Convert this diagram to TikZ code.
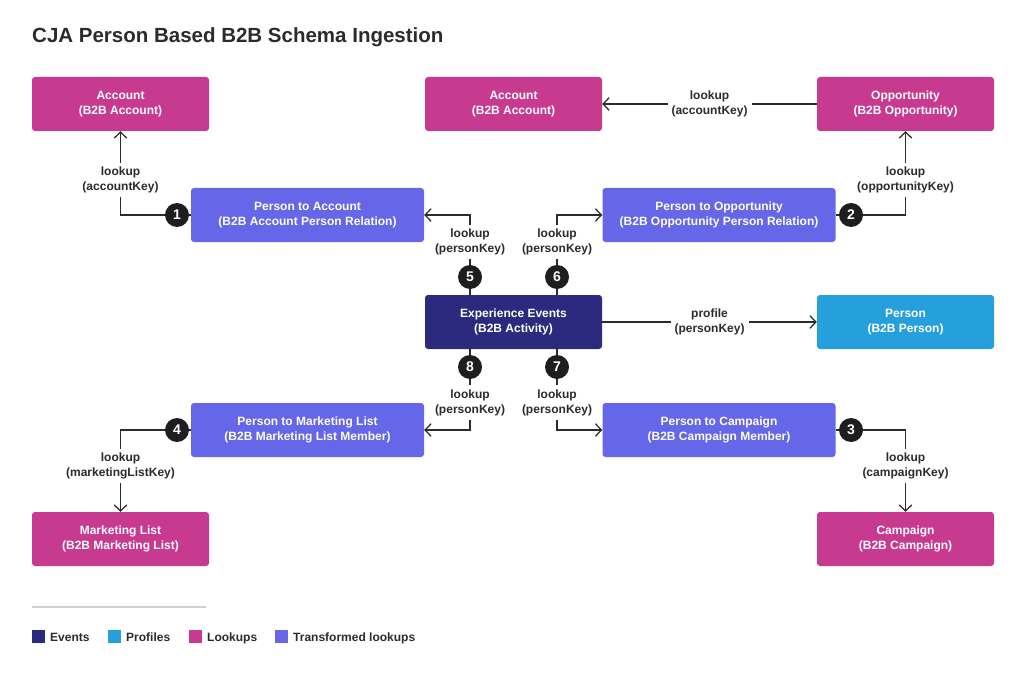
\documentclass[tikz,border=0pt]{standalone}
\usepackage{fontspec}
\setmainfont{Liberation Sans}
\usetikzlibrary{arrows.meta,positioning,calc}

\definecolor{evcol}{HTML}{2C2A7E}
\definecolor{profcol}{HTML}{26A0DC}
\definecolor{lkcol}{HTML}{C83A8F}
\definecolor{trcol}{HTML}{6567E8}
\definecolor{inkcol}{HTML}{2B2B2B}
\definecolor{badgecol}{HTML}{1E1E1E}
\definecolor{rulecol}{HTML}{CFCFCF}

\begin{document}
\begin{tikzpicture}[x=1pt, y=-1pt,
  box/.style={rectangle, rounded corners=3pt, minimum height=54pt, align=center,
              text=white, font=\fontsize{12}{15}\selectfont\bfseries, inner sep=0pt},
  lookupbox/.style={box, fill=lkcol, minimum width=177pt},
  transbox/.style={box, fill=trcol, minimum width=233pt},
  eventbox/.style={box, fill=evcol, minimum width=177pt},
  profilebox/.style={box, fill=profcol, minimum width=177pt},
  badge/.style={circle, fill=badgecol, text=white, minimum size=24pt, inner sep=0pt,
                font=\fontsize{14}{16}\selectfont\bfseries},
  note/.style={fill=white, align=center, text=inkcol, inner sep=4pt,
               font=\fontsize{12}{15}\selectfont\bfseries},
  link/.style={draw=inkcol, line width=1.25pt, -{Straight Barb[length=6pt,width=12.5pt]}},
  swatch/.style={rectangle, minimum size=13pt, inner sep=0pt},
  legtext/.style={anchor=base west, text=inkcol, inner sep=0pt,
                  font=\fontsize{12}{14}\selectfont\bfseries},
]
  \useasboundingbox (0,0) rectangle (1024,676);

  % ===== Title =====
  \node[anchor=base west, inner sep=0pt, text=inkcol,
        font=\fontsize{20.5}{24}\selectfont\bfseries] (title) at (32,43)
       {CJA Person Based B2B Schema Ingestion};

  % ===== Top row =====
  \node[lookupbox] (acc1) at (120.5,104) {Account\\(B2B Account)};
  \node[lookupbox] (acc2) at (513.5,104) {Account\\(B2B Account)};
  \node[lookupbox] (opp)  at (905.5,104) {Opportunity\\(B2B Opportunity)};

  % ===== Transformed lookups =====
  \node[transbox] (pta)  at (307.5,215) {Person to Account\\(B2B Account Person Relation)};
  \node[transbox] (pto)  at (719,215)   {Person to Opportunity\\(B2B Opportunity Person Relation)};
  \node[transbox] (ptml) at (307.5,430) {Person to Marketing List\\(B2B Marketing List Member)};
  \node[transbox] (ptc)  at (719,430)   {Person to Campaign\\(B2B Campaign Member)};

  % ===== Events and profile =====
  \node[eventbox]   (ev)     at (513.5,322) {Experience Events\\(B2B Activity)};
  \node[profilebox] (person) at (905.5,322) {Person\\(B2B Person)};

  % ===== Bottom row =====
  \node[lookupbox] (mlist) at (120.5,539) {Marketing List\\(B2B Marketing List)};
  \node[lookupbox] (camp)  at (905.5,539) {Campaign\\(B2B Campaign)};

  % badge spots
  \coordinate (k1) at (177,215);
  \coordinate (k2) at (851,215);
  \coordinate (k3) at (851,430);
  \coordinate (k4) at (177,430);
  \coordinate (k5) at (470,277);
  \coordinate (k6) at (557,277);
  \coordinate (k7) at (557,367);
  \coordinate (k8) at (470,367);

  % ===== Connectors =====
  \draw[link] (opp.west) -- (acc2.east)
        node[midway, note] {lookup\\(accountKey)};
  \draw[link] (ev.east) -- (person.west)
        node[midway, note] {profile\\(personKey)};

  \draw[link] (pta.west) -| (acc1.south)
        node[pos=0.71, note] {lookup\\(accountKey)};
  \draw[link] (pto.east) -| (opp.south)
        node[pos=0.71, note] {lookup\\(opportunityKey)};
  \draw[link] (ptc.east) -| (camp.north)
        node[pos=0.72, note] {lookup\\(campaignKey)};
  \draw[link] (ptml.west) -| (mlist.north)
        node[pos=0.72, note] {lookup\\(marketingListKey)};

  % Experience Events -> person relations
  \draw[link] (ev.north -| k5) |- (pta.east)
        node[pos=0.33, note] {lookup\\(personKey)};
  \draw[link] (ev.north -| k6) |- (pto.west)
        node[pos=0.33, note] {lookup\\(personKey)};
  \draw[link] (ev.south -| k8) |- (ptml.east)
        node[pos=0.33, note] {lookup\\(personKey)};
  \draw[link] (ev.south -| k7) |- (ptc.west)
        node[pos=0.33, note] {lookup\\(personKey)};

  % ===== Badges =====
  \node[badge] (b1) at (k1) {1};
  \node[badge] (b2) at (k2) {2};
  \node[badge] (b3) at (k3) {3};
  \node[badge] (b4) at (k4) {4};
  \node[badge] (b5) at (k5) {5};
  \node[badge] (b6) at (k6) {6};
  \node[badge] (b7) at (k7) {7};
  \node[badge] (b8) at (k8) {8};

  % ===== Legend =====
  \draw[rulecol, line width=1.3pt] (32,607) -- (206,607);
  \node[swatch, fill=evcol]   (sw1) at (38.5,636.5) {};
  \node[legtext] (lg1) at (50,641)  {Events};
  \node[swatch, fill=profcol] (sw2) at (114,636.5) {};
  \node[legtext] (lg2) at (126,641) {Profiles};
  \node[swatch, fill=lkcol]   (sw3) at (195,636.5) {};
  \node[legtext] (lg3) at (207,641) {Lookups};
  \node[swatch, fill=trcol]   (sw4) at (281,636.5) {};
  \node[legtext] (lg4) at (293,641) {Transformed lookups};

\end{tikzpicture}
\end{document}
